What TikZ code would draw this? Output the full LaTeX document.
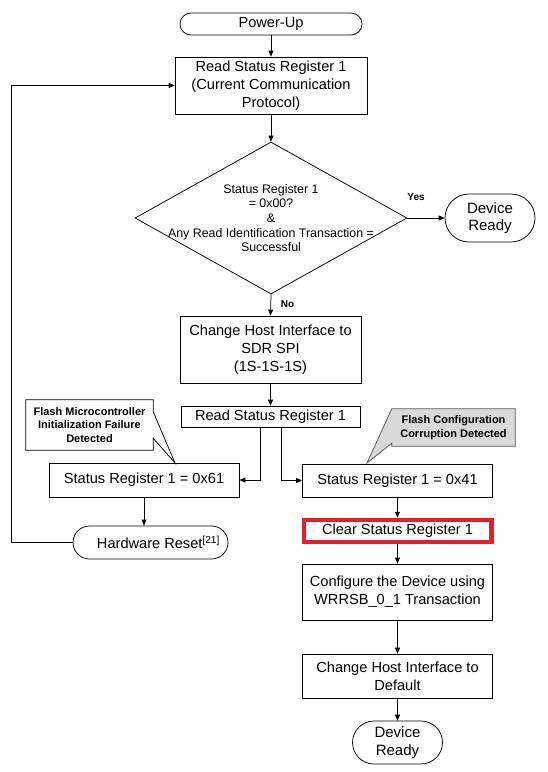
\documentclass[tikz,border=0pt]{standalone}
\usepackage{fontspec}
\setmainfont{Liberation Sans}
\usetikzlibrary{shapes.geometric,arrows.meta,backgrounds}
\definecolor{calloutgray}{RGB}{217,217,217}
\definecolor{calloutedge}{RGB}{90,90,90}
\definecolor{hilite}{RGB}{230,30,40}
\begin{document}
\begin{tikzpicture}[x=1pt,y=-1pt,
  every node/.style={font=\fontsize{14.6}{18}\selectfont, align=center, inner sep=0pt},
  proc/.style={draw, line width=0.75pt, fill=white},
  term/.style={draw, line width=0.75pt, fill=white, rounded corners=#1},
  arr/.style={-{Triangle[length=6pt,width=5pt]}, line width=0.75pt},
  callt/.style={font=\fontsize{11}{13.3}\selectfont\bfseries},
  lbl/.style={font=\fontsize{10}{12}\selectfont\bfseries},
  dectext/.style={font=\fontsize{12.4}{14.7}\selectfont},
  ready/.style={font=\fontsize{15}{17.3}\selectfont}
]
\useasboundingbox (0,0) rectangle (548,772);

% main column
\node[term=11pt, minimum width=182pt, minimum height=22pt] (pu) at (271,24) {Power-Up};
\node[proc, minimum width=192pt, minimum height=57pt] (rs1) at (271,85.5) {Read Status Register 1\\(Current Communication\\Protocol)};
\node[draw, diamond, line width=0.75pt, minimum width=272pt, minimum height=152pt] (dec) at (271,218) {};
\node[dectext] (dect) at (dec.center) {Status Register 1\\= 0x00?\\\&\\Any Read Identification Transaction =\\Successful};
\node[term=24pt, ready, minimum width=90pt, minimum height=48pt] (dr1) at (490,218) {Device\\Ready};
\node[proc, minimum width=181pt, minimum height=67pt] (ch1) at (270.5,349.5) {Change Host Interface to\\SDR SPI\\(1S-1S-1S)};
\node[proc, minimum width=179pt, minimum height=21pt] (rs2) at (270.5,416.5) {Read Status Register 1};

% left branch
\node[proc, minimum width=190pt, minimum height=34pt] (s61) at (144,480) {Status Register 1 = 0x61};
\node[term=16.5pt, minimum width=155pt, minimum height=33pt] (hwr) at (150.5,542.5) {\hspace{16pt}Hardware Reset\textsuperscript{[21]}};

% right branch
\node[proc, minimum width=190pt, minimum height=33pt] (s41) at (397.5,480.5) {Status Register 1 = 0x41};
\node[draw=hilite, fill=white, line width=4.5pt, minimum width=187.5pt, minimum height=22pt] (clr) at (397.5,531) {Clear Status Register 1};
\node[proc, minimum width=190pt, minimum height=56pt] (cfg) at (397.5,592) {Configure the Device using\\WRRSB\_0\_1 Transaction};
\node[proc, minimum width=190pt, minimum height=44pt] (chd) at (397.5,676) {Change Host Interface to\\Default};
\node[term=21.5pt, ready, minimum width=90pt, minimum height=43pt] (dr2) at (397.5,742.5) {Device\\Ready};

% labels
\node[lbl] (yes) at (416,197) {Yes};
\node[lbl] (no) at (287.5,304) {No};

% callouts
\node[callt, minimum width=127pt, minimum height=50pt] (cl1) at (89.5,425) {Flash Microcontroller\\Initialization Failure\\Detected};
\coordinate (t1) at (175,463);
\draw[line width=0.75pt, line join=miter] (cl1.north west) -- (cl1.north east) -- ([yshift=-12pt]cl1.north east) -- (t1) -- ([yshift=12pt]cl1.south east) -- (cl1.south east) -- (cl1.south west) -- cycle;

\node[callt, minimum width=123pt, minimum height=37pt] (cl2) at (453.5,427.5) {Flash Configuration\\Corruption Detected};
\coordinate (t2) at (367,463);
\begin{pgfonlayer}{background}
\fill[white] (0,0) rectangle (548,772);
\draw[fill=calloutgray, draw=calloutedge, line width=0.75pt] (cl2.north west) -- (cl2.north east) -- (cl2.south east) -- (cl2.south west) -- ([yshift=3pt]cl2.south west) -- (t2) -- cycle;
\end{pgfonlayer}

% connectors
\coordinate (fb) at (11,542.5);
\draw[arr] (pu) -- (rs1);
\draw[arr] (rs1) -- (dec);
\draw[arr] (dec.east) -- (dr1.west);
\draw[arr] (dec.south) -- (ch1.north);
\draw[arr] (ch1) -- (rs2);
\draw[arr] ([xshift=-10pt]rs2.south) |- (s61.east);
\draw[arr] ([xshift=11pt]rs2.south) |- (s41.west);
\draw[arr] (s61.south) -- (s61.south |- hwr.north);
\draw[arr] (hwr.west) -- (fb) |- (rs1.west);
\draw[arr] (s41) -- (clr);
\draw[arr] (clr) -- (cfg);
\draw[arr] (cfg) -- (chd);
\draw[arr] (chd) -- (dr2);
\end{tikzpicture}
\end{document}
